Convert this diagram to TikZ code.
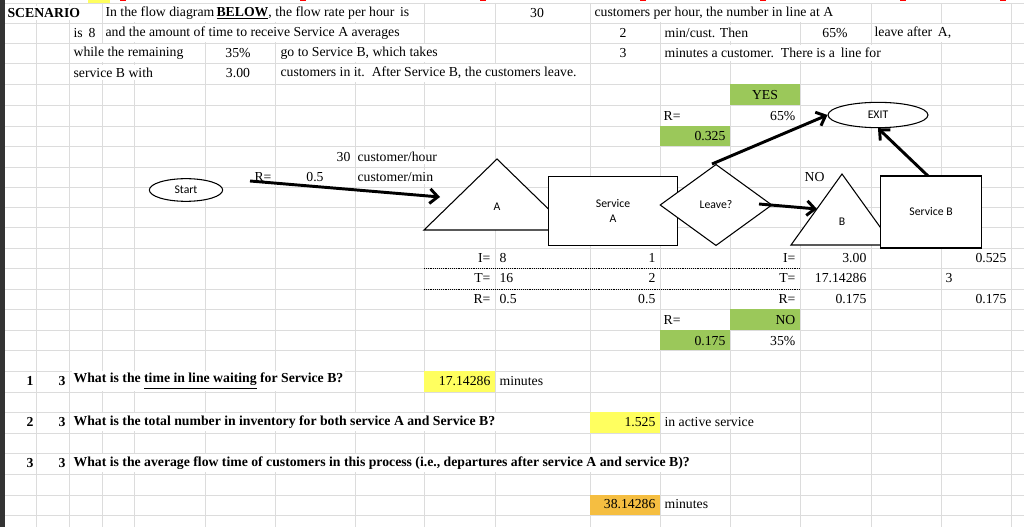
\documentclass[tikz,border=0pt]{standalone}
\usepackage{fontspec}
\setmainfont{Liberation Serif}
\newfontfamily\shp{Carlito}
\usetikzlibrary{arrows.meta,shapes.geometric}
\definecolor{grn}{RGB}{155,200,90}
\definecolor{ylw}{RGB}{255,255,95}
\definecolor{org}{RGB}{245,190,65}
\definecolor{grd}{RGB}{220,220,220}
\tikzset{
 t/.style={inner xsep=1pt,inner ysep=2pt,fill=white,font=\fontsize{10.3}{11}\selectfont},
 c/.style={t,fill=none},
 tb/.style={t,font=\fontsize{10.3}{11}\selectfont\bfseries},
 fig/.style={draw,fill=white,line width=0.8pt,font=\shp\fontsize{8.8}{11}\selectfont,align=center},
 arr/.style={line width=2.2pt,-{Straight Barb[length=6pt,width=11pt]}}
}
\begin{document}
\begin{tikzpicture}[x=0.75pt,y=-0.75pt]
\useasboundingbox (0,0) rectangle (1024,527);
\fill[white] (0,0) rectangle (1024,527);
% grid
\foreach \y in {3,23,43,63,84,105,126,146,167,187,207,227,248,268,289,309,330,350,371,392,412,433,453,474,495,515}
  \draw[grd,line width=0.6pt] (5,\y) -- (1024,\y);
\foreach \x in {36,69,102,134,205,275,355,424,495,590,660,730,800,871,941,1011}
  \draw[grd,line width=0.6pt] (\x,3) -- (\x,527);
% cell fills
\fill[grn] (730,84) rectangle (800,105);
\fill[grn] (660,126) rectangle (730,146);
\fill[grn] (730,309) rectangle (800,330);
\fill[grn] (660,330) rectangle (730,350);
\fill[ylw] (424,371) rectangle (495,392);
\fill[ylw] (590,412) rectangle (660,433);
\fill[org] (590,495) rectangle (660,515);
\fill[black!80] (0,0) rectangle (5,527);
\foreach \x in {120,300,480,640,760,900,1000} \draw[red,line width=0.8pt] (\x,0) -- (\x+6,0);
\fill[ylw] (88,0) rectangle (110,3);
\draw[densely dotted] (424,268) -- (800,268);
\draw[densely dotted] (424,289) -- (800,289);
% scenario text
\node[tb,anchor=west] at (6,13) {SCENARIO};
\node[t,anchor=west] at (104,13) {In the flow diagram\,\underline{\textbf{BELOW}}, the flow rate per hour\, is};
\node[t] at (537,13) {30};
\node[t,anchor=west] at (593,13) {customers per hour, the number in line at A};
\node[t,anchor=west] at (72,33) {is};
\node[t] at (92,33) {8};
\node[t,anchor=west] at (104,33) {and the amount of time to receive Service A averages};
\node[t] at (623,33) {2};
\node[t,anchor=west] at (663,33) {min/cust. Then};
\node[t] at (835,33) {65\%};
\node[t,anchor=west] at (873,33) {leave after\, A,};
\node[t,anchor=west] at (72,53) {while the remaining};
\node[t] at (238,53) {35\%};
\node[t,anchor=west] at (279,53) {go to Service B, which takes};
\node[t] at (623,53) {3};
\node[t,anchor=west] at (663,53) {minutes a customer.\, There is a\, line for};
\node[t,anchor=west] at (72,73) {service B with};
\node[t] at (238,73) {3.00};
\node[t,anchor=west] at (279,73) {customers in it.\, After Service B, the customers leave.};
% diagram cells
\node[c] at (765,95) {YES};
\node[t,anchor=west] at (662,116) {R=};
\node[t,anchor=east] at (797,116) {65\%};
\node[c,anchor=east] at (727,136) {0.325};
\node[t,anchor=east] at (352,157) {30};
\node[t,anchor=west] at (356,157) {customer/hour};
\node[t] at (263,177) {R=};
\node[t] at (315,177) {0.5};
\node[t,anchor=west] at (356,177) {customer/min};
\node[t,anchor=west] at (803,177) {NO};
\node[t,anchor=east] at (492,258) {I=};
\node[t,anchor=west] at (498,258) {8};
\node[t,anchor=east] at (657,258) {1};
\node[t,anchor=east] at (797,258) {I=};
\node[t,anchor=east] at (868,258) {3.00};
\node[t,anchor=east] at (1008,258) {0.525};
\node[c,anchor=east] at (492,278) {T=};
\node[c,anchor=west] at (498,278) {16};
\node[c,anchor=east] at (657,278) {2};
\node[c,anchor=east] at (797,278) {T=};
\node[t,anchor=east] at (868,278) {17.14286};
\node[t,anchor=west] at (944,278) {3};
\node[c,anchor=east] at (492,299) {R=};
\node[c,anchor=west] at (498,299) {0.5};
\node[c,anchor=east] at (657,299) {0.5};
\node[c,anchor=east] at (797,299) {R=};
\node[t,anchor=east] at (868,299) {0.175};
\node[t,anchor=east] at (1008,299) {0.175};
\node[t,anchor=west] at (662,320) {R=};
\node[c,anchor=east] at (797,320) {NO};
\node[c,anchor=east] at (727,341) {0.175};
\node[t,anchor=east] at (797,341) {35\%};
% questions
\node[tb] at (30,381) {1};
\node[tb] at (62,381) {3};
\node[tb,anchor=west] at (72,381) {What is the \underline{time in line waiting} for Service B?};
\node[c,anchor=east] at (492,381) {17.14286};
\node[t,anchor=west] at (498,381) {minutes};
\node[tb] at (30,422) {2};
\node[tb] at (62,422) {3};
\node[tb,anchor=west] at (72,422) {What is the total number in inventory for both service A and Service B?};
\node[c,anchor=east] at (657,422) {1.525};
\node[t,anchor=west] at (663,422) {in active service};
\node[tb] at (30,463) {3};
\node[tb] at (62,463) {3};
\node[tb,anchor=west] at (72,463) {What is the average flow time of customers in this process (i.e., departures after service A and service B)?};
\node[c,anchor=east] at (657,504) {38.14286};
\node[t,anchor=west] at (663,504) {minutes};
% shapes
\node[fig,ellipse,minimum width=55pt,minimum height=17pt,inner sep=0pt] (start) at (186,190) {Start};
\draw[fig] (424,230) -- (497,159) -- (570,230) -- cycle;
\node[fig,draw=none,fill=none] (triA) at (497,207) {A};
\node[fig,minimum width=97pt,minimum height=52pt,inner sep=0pt] (svcA) at (613,211) {Service\\A};
\node[fig,diamond,minimum width=84pt,minimum height=61pt,inner sep=0pt,aspect=1.38] (leave) at (716,205) {Leave?};
\draw[fig] (791,245) -- (842,174) -- (893,245) -- cycle;
\node[fig,draw=none,fill=none] (triB) at (842,222) {B};
\node[fig,minimum width=76pt,minimum height=54pt,inner sep=0pt] (svcB) at (931,212) {Service B};
\node[fig,ellipse,minimum width=75pt,minimum height=19pt,inner sep=0pt] (exit) at (878,115) {EXIT};
\coordinate (s1) at (250,181);
\coordinate (a1) at (440,197);
\coordinate (l1) at (712,164);
\coordinate (l2) at (759,204);
\coordinate (b1) at (817,209);
\coordinate (sb) at (928,176);
\draw[arr] (s1) -- (a1);
\draw[arr] (l1) -- (exit.west);
\draw[arr] (l2) -- (b1);
\draw[arr] (sb) -- (exit.south);
\end{tikzpicture}
\end{document}
